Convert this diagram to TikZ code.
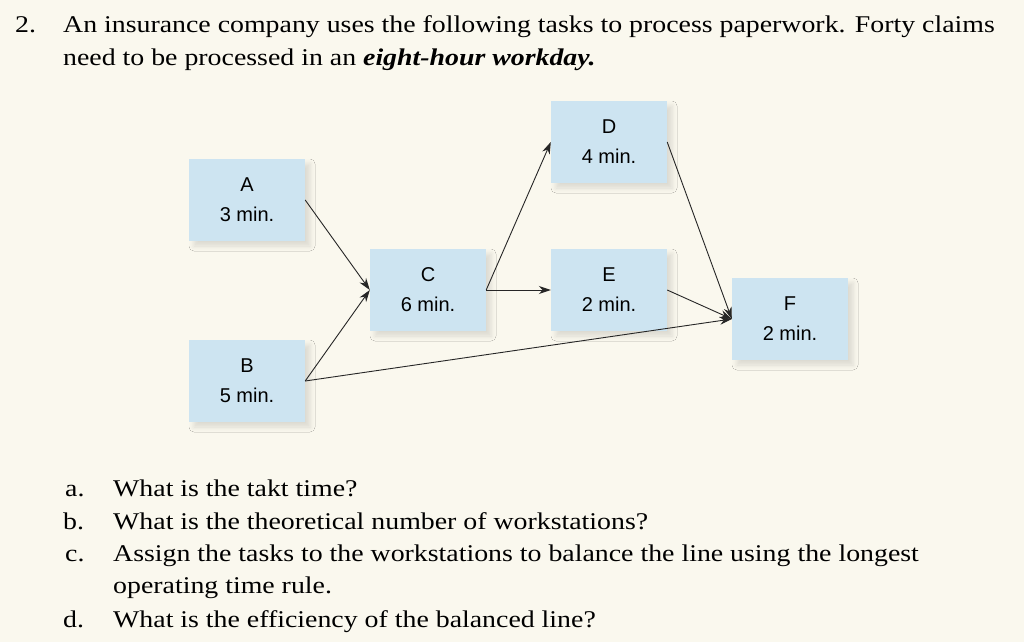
\documentclass[tikz,border=0pt]{standalone}
\usepackage{fontspec}
\setmainfont{Liberation Serif}[FakeStretch=1.16]
\newfontfamily\boxfont{Liberation Sans}
\usetikzlibrary{shadows.blur,arrows.meta}
\definecolor{bg}{HTML}{FAF8EE}
\definecolor{boxc}{HTML}{CDE4F1}
\begin{document}
\begin{tikzpicture}[x=1pt,y=-1pt,
  task/.style={fill=boxc,draw=none,minimum width=116pt,minimum height=82pt,inner sep=0pt,
    align=center,font=\boxfont\fontsize{20}{30}\selectfont,
    blur shadow={shadow xshift=5pt,shadow yshift=-5pt,shadow blur radius=5pt,shadow opacity=12}},
  arr/.style={draw=black!85,line width=0.9pt,-{Stealth[length=12pt,width=8pt]}},
  txt/.style={anchor=base west,inner sep=0pt,font=\fontsize{24}{30}\selectfont}]
\fill[bg] (0,0) rectangle (1024,642);
\useasboundingbox (0,0) rectangle (1024,642);
\node[txt] (n2) at (15,33) {2.};
\node[txt] (l1) at (63,33) {An insurance company uses the following tasks to process paperwork. Forty claims};
\node[txt] (l2) at (63,65) {need to be processed in an \textbf{\textit{eight-hour workday.}}};
\node[task] (A) at (247,200) {A\\3 min.};
\node[task] (B) at (247,381) {B\\5 min.};
\node[task] (C) at (428,290) {C\\6 min.};
\node[task] (D) at (609,142) {D\\4 min.};
\node[task] (E) at (609,290) {E\\2 min.};
\node[task] (F) at (790,319) {F\\2 min.};
\draw[arr] (A.east) -- (C.west);
\draw[arr] (B.east) -- (C.west);
\draw[arr] (B.east) -- (F.west);
\draw[arr] (C.east) -- (D.west);
\draw[arr] (C.east) -- (E.west);
\draw[arr] (D.east) -- (F.west);
\draw[arr] (E.east) -- (F.west);
\node[txt] (qa) at (65,496) {a.};
\node[txt] (ta) at (113,496) {What is the takt time?};
\node[txt] (qb) at (63,529) {b.};
\node[txt] (tb) at (113,529) {What is the theoretical number of workstations?};
\node[txt] (qc) at (65,561) {c.};
\node[txt] (tc) at (113,561) {Assign the tasks to the workstations to balance the line using the longest};
\node[txt] (tc2) at (113,593) {operating time rule.};
\node[txt] (qd) at (63,627) {d.};
\node[txt] (td) at (113,627) {What is the efficiency of the balanced line?};
\end{tikzpicture}
\end{document}
